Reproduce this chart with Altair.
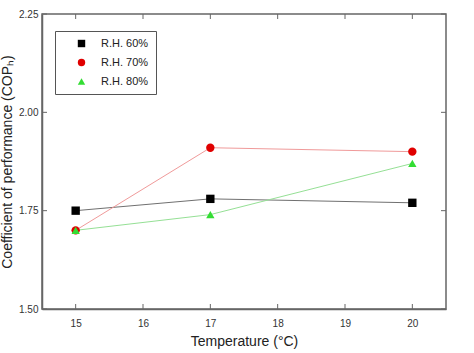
import altair as alt
import pandas as pd

temps = [15, 17, 20]
series = ["R.H. 60%", "R.H. 70%", "R.H. 80%"]
rh60 = [1.75, 1.78, 1.77]
rh70 = [1.70, 1.91, 1.90]
rh80 = [1.70, 1.74, 1.87]
x_ticks = [15, 16, 17, 18, 19, 20]
y_ticks = [1.50, 1.75, 2.00, 2.25]

rows = []
for name, vals in zip(series, [rh60, rh70, rh80]):
    for t, v in zip(temps, vals):
        rows.append({"T": t, "COP": v, "series": name})
df = pd.DataFrame(rows)
xt = pd.DataFrame({"T": x_ticks})
yt = pd.DataFrame({"COP": y_ticks})

W, H = 404, 295
point_colors = ["#000000", "#e00000", "#33dd33"]
line_colors = ["#707070", "#f09a9a", "#95e095"]
shapes = ["square", "circle", "triangle-up"]

xs = alt.Scale(domain=[14.5, 20.5], nice=False, zero=False)
ys = alt.Scale(domain=[1.5, 2.25], nice=False, zero=False)

axis_common = dict(
    domainColor="#666666", domainWidth=1.5, ticks=False, grid=False,
    labelFont="Liberation Sans", labelFontSize=10, labelColor="#333333",
    titleFont="Liberation Sans", titleFontSize=14, titleFontWeight="normal",
    titleColor="#222222",
)

x_axis = alt.Axis(values=x_ticks, format="d", title="Temperature (°C)", labelPadding=9,
                  titlePadding=6, **axis_common)
y_axis = alt.Axis(values=y_ticks, format=".2f", title="Coefficient of performance (COPₕ)",
                  labelPadding=4, titlePadding=4, **axis_common)

line_layers = []
for i, (s, c) in enumerate(zip(series, line_colors)):
    enc = dict(x=alt.X("T:Q", scale=xs), y=alt.Y("COP:Q", scale=ys))
    if i == 0:
        enc = dict(x=alt.X("T:Q", scale=xs, axis=x_axis), y=alt.Y("COP:Q", scale=ys, axis=y_axis))
    line_layers.append(
        alt.Chart(df).transform_filter(alt.datum.series == s)
        .mark_line(strokeWidth=1, color=c).encode(**enc)
    )

legend = alt.Legend(title=None, orient="none", legendX=13, legendY=17,
                    strokeColor="#555555", padding=7, labelFont="Liberation Sans",
                    labelFontSize=11, labelColor="#222222", symbolSize=55,
                    rowPadding=7, symbolOffset=14, labelOffset=14, fillColor="white")

points = alt.Chart(df).mark_point(filled=True, size=70, opacity=1).encode(
    x=alt.X("T:Q", scale=xs),
    y=alt.Y("COP:Q", scale=ys),
    color=alt.Color("series:N", scale=alt.Scale(domain=series, range=point_colors), legend=legend),
    shape=alt.Shape("series:N", scale=alt.Scale(domain=series, range=shapes), legend=legend),
)

tick_color = "#666666"
xb = alt.Chart(xt).mark_rule(color=tick_color, strokeWidth=1).encode(
    x=alt.X("T:Q", scale=xs), y=alt.value(H), y2=alt.value(H - 5))
xtop = alt.Chart(xt).mark_rule(color=tick_color, strokeWidth=1).encode(
    x=alt.X("T:Q", scale=xs), y=alt.value(0), y2=alt.value(5))
yl = alt.Chart(yt).mark_rule(color=tick_color, strokeWidth=1).encode(
    y=alt.Y("COP:Q", scale=ys), x=alt.value(0), x2=alt.value(5))
yr = alt.Chart(yt).mark_rule(color=tick_color, strokeWidth=1).encode(
    y=alt.Y("COP:Q", scale=ys), x=alt.value(W), x2=alt.value(W - 5))

chart = alt.layer(*line_layers, points, xb, xtop, yl, yr).properties(
    width=W, height=H,
    autosize=alt.AutoSizeParams(type="none"),
    padding={"left": 42, "top": 14, "right": 28, "bottom": 44},
    background="white",
).configure_view(stroke="#666666", strokeWidth=1.5)

chart.save("out.html", embed_options={"renderer": "svg", "actions": False})
